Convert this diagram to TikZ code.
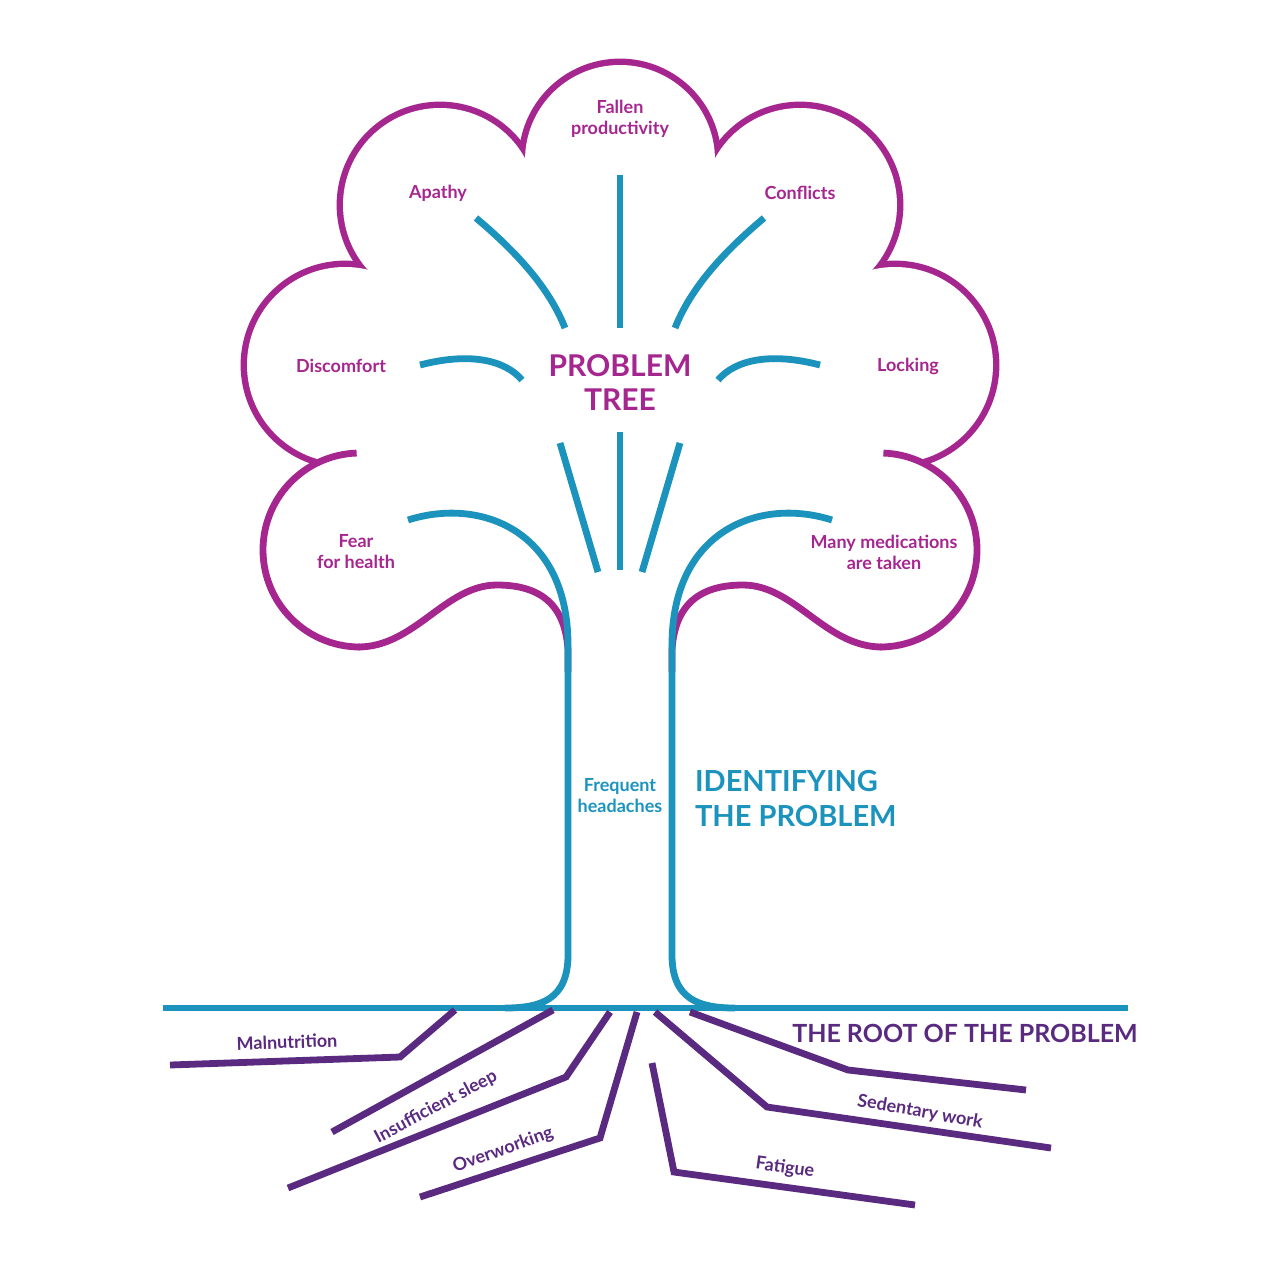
\documentclass[tikz,border=0pt]{standalone}
\usepackage{fontspec}
\setmainfont{Lato}
\begin{document}
\definecolor{mag}{HTML}{A6268F}
\definecolor{blu}{HTML}{1B93BD}
\definecolor{pur}{HTML}{5A2A80}
\begin{tikzpicture}[x=0.5pt,y=-0.5pt,
  br/.style={blu,line width=3.4pt},
  rt/.style={pur,line width=3.4pt},
  lab/.style={mag,font=\fontsize{9}{10.5}\selectfont\bfseries,align=center},
  rlab/.style={pur,font=\fontsize{9}{10}\selectfont\bfseries}]
\useasboundingbox (0,0) rectangle (1288,1284);
% crown outline (union of lobes)
\foreach \cx/\cy/\r in {620/160/95,440/205/97,800/205/97,345/365/98,895/365/98}
  \draw[mag,line width=6.4pt] (\cx,\cy) circle[radius=\r];
\foreach \cx/\cy/\r in {620/160/95,440/205/97,800/205/97,345/365/98,895/365/98,360/550/97,880/550/97}
  \fill[white] (\cx,\cy) circle[radius=\r];
\fill[white] (568,672) -- (568,650) .. controls (565,600) and (535,585) .. (497,585)
  .. controls (445,585) and (415,647) .. (360,647) -- (358,457) -- (398,288) -- (535,187)
  -- (705,187) -- (842,288) -- (882,457) -- (880,647)
  .. controls (825,647) and (795,585) .. (743,585) .. controls (705,585) and (675,600) .. (672,650)
  -- (672,672) -- cycle;
\draw[mag,line width=3.4pt] (360,647) arc[start angle=90,end angle=268,radius=97];
\draw[mag,line width=3.4pt] (880,647) arc[start angle=90,end angle=-88,radius=97];
\draw[mag,line width=3.4pt] (568,672) -- (568,650) .. controls (565,600) and (535,585) .. (497,585)
  .. controls (445,585) and (415,647) .. (358,647);
\draw[mag,line width=3.4pt] (672,672) -- (672,650) .. controls (675,600) and (705,585) .. (743,585)
  .. controls (795,585) and (825,647) .. (882,647);
% branches
\draw[br] (620,175) -- (620,328);
\draw[br] (476,218) .. controls (520,255) and (550,290) .. (565,328);
\draw[br] (764,218) .. controls (720,255) and (690,290) .. (675,328);
\draw[br] (420,365) .. controls (470,352) and (505,360) .. (522,380);
\draw[br] (820,365) .. controls (770,352) and (735,360) .. (718,380);
\draw[br] (620,432) -- (620,570);
\draw[br] (560,443) -- (598,572);
\draw[br] (680,443) -- (642,572);
% trunk
\draw[br] (408,520) .. controls (480,497) and (568,530) .. (568,645) -- (568,955)
  .. controls (568,1000) and (540,1008) .. (505,1008);
\draw[br] (832,520) .. controls (760,497) and (672,530) .. (672,645) -- (672,955)
  .. controls (672,1000) and (700,1008) .. (735,1008);
\draw[br] (163,1008) -- (1128,1008);
% roots
\draw[rt] (455,1010) -- (400,1057) -- (170,1065);
\draw[rt] (553,1010) -- (332,1132);
\draw[rt] (610,1012) -- (566,1077) -- (288,1188);
\draw[rt] (637,1012) -- (600,1138) -- (420,1197);
\draw[rt] (652,1063) -- (674,1172) -- (915,1205);
\draw[rt] (655,1012) -- (767,1107) -- (1051,1148);
\draw[rt] (690,1012) -- (848,1070) -- (1026,1090);
% labels
\node[lab] (fp) at (620,119) {Fallen\\productivity};
\node[lab] (ap) at (438,193) {Apathy};
\node[lab] (co) at (800,193) {Conflicts};
\node[lab] (di) at (341,366) {Discomfort};
\node[lab] (lo) at (908,366) {Locking};
\node[lab] (fe) at (356,552) {Fear\\for health};
\node[lab] (mm) at (884,552) {Many medications\\are taken};
\node[mag,font=\fontsize{15}{17}\selectfont\bfseries,align=center] (pt) at (620,383) {PROBLEM\\TREE};
\node[blu,font=\fontsize{9}{10.5}\selectfont\bfseries,align=center] (fh) at (620,796) {Frequent\\headaches};
\node[blu,font=\fontsize{14.5}{17.5}\selectfont\bfseries,align=left,anchor=west] (id) at (688,799) {IDENTIFYING\\THE PROBLEM};
\node[pur,font=\fontsize{12.5}{14}\selectfont\bfseries] (rp) at (965,1033) {THE ROOT OF THE PROBLEM};
\node[rlab,rotate=2] (ma) at (287,1042) {Malnutrition};
\node[rlab,rotate=28] (is) at (436,1107) {Insufficient sleep};
\node[rlab,rotate=20] (ov) at (503,1150) {Overworking};
\node[rlab,rotate=-8] (fa) at (785,1168) {Fatigue};
\node[rlab,rotate=-10] (se) at (920,1112) {Sedentary work};
\end{tikzpicture}
\end{document}
